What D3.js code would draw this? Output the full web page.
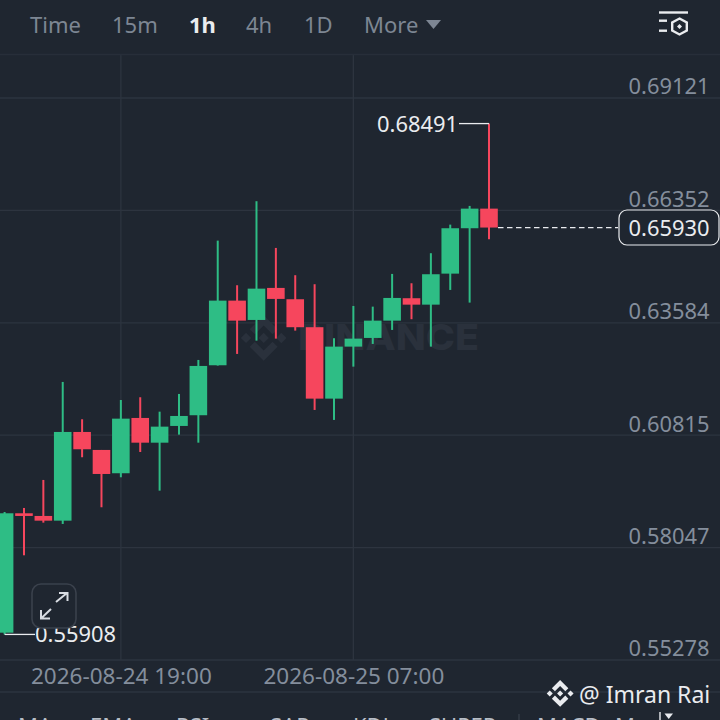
<!DOCTYPE html>
<html><head><meta charset="utf-8">
<script src="https://cdn.jsdelivr.net/npm/d3@7/dist/d3.min.js"></script>
<style>html,body{margin:0;padding:0;background:#1f2630;overflow:hidden}svg{display:block}</style>
</head><body><svg id="c" width="720" height="720"></svg>
<script>
const opens =[.55951,.58892,.58826,.58710,.60895,.60452,.59878,.61240,.60631,.61043,.61307,.62538,.64130,.63654,.64443,.64164,.63475,.61716,.62997,.63211,.63637,.64189,.64031,.64795,.65913,.66396];
const closes=[.58892,.58826,.58710,.60895,.60469,.59860,.61223,.60631,.61026,.61289,.62521,.64130,.63637,.64425,.64172,.63475,.61716,.62997,.63194,.63637,.64196,.64031,.64780,.65913,.66396,.65930];
const highs =[.58924,.59023,.59713,.62127,.61208,.60452,.61683,.61750,.61395,.61831,.62669,.65608,.64509,.66579,.65428,.64756,.64534,.63204,.63999,.63982,.64788,.64558,.65298,.66002,.66463,.68491];
const lows  =[.55908,.57857,.58661,.58629,.60272,.59040,.59779,.60402,.59449,.60829,.60631,.62530,.62817,.63144,.63194,.63391,.61437,.61191,.62504,.63063,.63408,.63672,.62997,.64393,.64081,.65642];
const priceTicks=[.69121,.66352,.63584,.60815,.58047,.55278];
const timeTicks=[{i:6,label:"2026-08-24 19:00"},{i:18,label:"2026-08-25 07:00"}];
const tabs=["Time","15m","1h","4h","1D","More"];
const tabX=[30,112,189,246,304,364];
const bottomTabs=["MA","EMA","RSI","SAR","KDJ","SUPER","MACD","More"];
const bottomX=[18,90,176,270,353,429,537,615];

const FONT='"Noto Sans",Inter,sans-serif';
const svg=d3.select("#c");
const y=d3.scaleLinear().domain([.55278,.69121]).range([660,98]);
const x=d3.scaleLinear().domain([0,25]).range([4.6,489]);
const GREEN="#2ebd85",RED="#f6465d",GRID="#2d343f",LABEL="#848e9c",WHITE="#eaecef";
const LOGO="M16.624 13.9202l2.7175 2.7154-7.353 7.353-7.353-7.352 2.7175-2.7164 4.6355 4.6595 4.6356-4.6595zm4.6366-4.6366L24 12l-2.7154 2.7164L18.5682 12l2.6924-2.7164zm-9.272.001l2.7163 2.6914-2.7164 2.7174v-.001L9.2721 12l2.7164-2.7154zm-9.2722-.001L5.4088 12l-2.6914 2.6924L0 12l2.7164-2.7164zM11.9885.0115l7.353 7.329-2.7174 2.7154-4.6356-4.6356-4.6355 4.6595-2.7174-2.7154 7.353-7.353z";

svg.append("rect").attr("width",720).attr("height",720).attr("fill","#1f2630");

// grid
svg.selectAll(".gh").data(priceTicks).join("line").attr("x1",0).attr("x2",720)
  .attr("y1",d=>y(d)).attr("y2",d=>y(d)).attr("stroke",GRID).attr("stroke-width",1.3);
svg.selectAll(".gv").data(timeTicks).join("line").attr("x1",d=>x(d.i)).attr("x2",d=>x(d.i))
  .attr("y1",55).attr("y2",660).attr("stroke",GRID).attr("stroke-width",1.3);
svg.append("line").attr("x1",0).attr("x2",720).attr("y1",54.5).attr("y2",54.5).attr("stroke","#272e39").attr("stroke-width",1.5);
svg.append("line").attr("x1",0).attr("x2",720).attr("y1",692).attr("y2",692).attr("stroke",GRID).attr("stroke-width",1.5);

// watermark
svg.append("path").attr("d",LOGO).attr("fill","#2a313c").attr("transform","translate(240.9,315.2) scale(1.9)");
svg.append("text").attr("x",298).attr("y",350).attr("font-family",'Inter,sans-serif').attr("font-weight",800)
  .attr("fill","#2a313c").attr("font-size",36).attr("textLength",181).attr("lengthAdjust","spacingAndGlyphs").text("BINANCE");

// candles
const idx=d3.range(opens.length);
const col=i=>closes[i]>=opens[i]?GREEN:RED;
svg.selectAll(".w").data(idx).join("line").attr("x1",i=>x(i)).attr("x2",i=>x(i))
  .attr("y1",i=>y(highs[i])).attr("y2",i=>y(lows[i])).attr("stroke",col).attr("stroke-width",2);
svg.selectAll(".b").data(idx).join("rect").attr("x",i=>x(i)-8.8).attr("width",17.6)
  .attr("y",i=>y(Math.max(opens[i],closes[i])))
  .attr("height",i=>Math.max(1,Math.abs(y(opens[i])-y(closes[i])))).attr("fill",col);

// price labels
svg.selectAll(".pl").data(priceTicks).join("text").attr("x",709.5).attr("y",d=>y(d)-3.7).attr("text-anchor","end")
  .attr("font-family",FONT).attr("font-size",21.9).attr("fill",LABEL).text(d=>d.toFixed(5));
svg.selectAll(".tl").data(timeTicks).join("text").attr("x",d=>x(d.i)+0.5).attr("y",684).attr("text-anchor","middle")
  .attr("font-family",FONT).attr("font-size",22.5).attr("fill",LABEL).text(d=>d.label);

// hi / lo annotations
const last=closes.length-1;
svg.append("line").attr("x1",459).attr("x2",x(last)).attr("y1",y(highs[last])).attr("y2",y(highs[last])).attr("stroke",WHITE).attr("stroke-width",1.3);
svg.append("text").attr("x",458).attr("y",y(highs[last])+8).attr("text-anchor","end").attr("font-family",FONT)
  .attr("font-size",21.9).attr("fill",WHITE).text(highs[last].toFixed(5));
svg.append("line").attr("x1",x(0)).attr("x2",35).attr("y1",y(lows[0])).attr("y2",y(lows[0])).attr("stroke",WHITE).attr("stroke-width",1.3);
svg.append("text").attr("x",35).attr("y",y(lows[0])+8).attr("font-family",FONT)
  .attr("font-size",21.9).attr("fill",WHITE).text(lows[0].toFixed(5));

// last price
svg.append("line").attr("x1",x(last)+9).attr("x2",618).attr("y1",y(closes[last])).attr("y2",y(closes[last]))
  .attr("stroke",WHITE).attr("stroke-width",1.3).attr("stroke-dasharray","5.5 3.5");
svg.append("rect").attr("x",619).attr("y",210).attr("width",100).attr("height",35).attr("rx",8)
  .attr("fill","#1f2630").attr("stroke",WHITE).attr("stroke-width",1.2);
svg.append("text").attr("x",709.5).attr("y",236).attr("text-anchor","end").attr("font-family",FONT)
  .attr("font-size",21.9).attr("fill",WHITE).text(closes[last].toFixed(5));

// header
svg.selectAll(".tab").data(tabs).join("text").attr("x",(d,i)=>tabX[i]).attr("y",33)
  .attr("font-family",FONT).attr("font-size",22).attr("font-weight",d=>d==="1h"?700:400)
  .attr("fill",d=>d==="1h"?WHITE:"#7d8693").text(d=>d);
svg.append("path").attr("d","M426 20H441L433.5 29Z").attr("fill","#7d8693");

// settings icon
const ic=svg.append("g").attr("fill","none").attr("stroke",WHITE).attr("stroke-width",2.4);
ic.append("line").attr("x1",659).attr("x2",688).attr("y1",12.5).attr("y2",12.5);
ic.append("line").attr("x1",659).attr("x2",667).attr("y1",20.7).attr("y2",20.7);
ic.append("line").attr("x1",659).attr("x2",667).attr("y1",30.7).attr("y2",30.7);
ic.append("path").attr("d","M679.5 18.5L686.8 22.5V30.5L679.5 34.5L672.2 30.5V22.5Z");
ic.append("path").attr("d","M679.5 24L682 26.5L679.5 29L677 26.5Z").attr("fill",WHITE).attr("stroke","none");

// expand button
svg.append("rect").attr("x",32).attr("y",584).attr("width",44).attr("height",44).attr("rx",9)
  .attr("fill","#1f2630").attr("stroke","#3a414c").attr("stroke-width",1.6);
const ex=svg.append("g").attr("fill","none").attr("stroke","#d8dce2").attr("stroke-width",2);
ex.append("path").attr("d","M56 602L67 593M59 593H67.5V601");
ex.append("path").attr("d","M51 609L41 618.5M41 610V618.5H50");

// bottom clipped tabs
svg.selectAll(".bt").data(bottomTabs).join("text").attr("x",(d,i)=>bottomX[i]).attr("y",733.7)
  .attr("font-family",FONT).attr("font-size",22).attr("fill","#b7bdc6").text(d=>d);
svg.append("line").attr("x1",519).attr("x2",519).attr("y1",714).attr("y2",720).attr("stroke","#3a414c").attr("stroke-width",1.2);
svg.append("line").attr("x1",660).attr("x2",660).attr("y1",712).attr("y2",720).attr("stroke",WHITE).attr("stroke-width",1.4);
svg.append("path").attr("d","M664.5 713.5H673L668.7 719Z").attr("fill",WHITE);

// author mark
svg.append("path").attr("d",LOGO).attr("fill","#eaecef").attr("transform","translate(546.7,680) scale(1.12)");
svg.append("text").attr("x",579).attr("y",702.5).attr("font-family",FONT).attr("font-size",23).attr("fill","#eaecef").text("@ Imran Rai");
</script></body></html>
